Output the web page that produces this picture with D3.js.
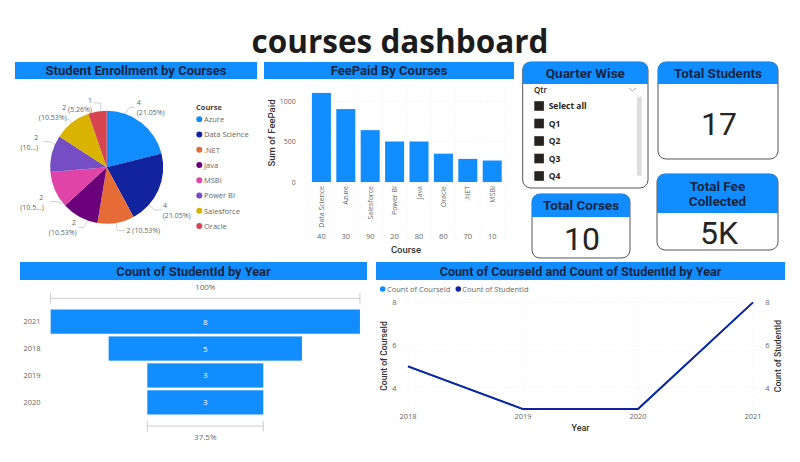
<!DOCTYPE html>
<html>
<head>
<meta charset="utf-8">
<title>courses dashboard</title>
<script src="https://cdn.jsdelivr.net/npm/d3@7"></script>
<style>
  html, body { margin: 0; padding: 0; background: #fff; }
  svg { display: block; }
  text { font-family: "Open Sans", "Noto Sans", sans-serif; }
  .head { font-family: Roboto, sans-serif; font-weight: 700; fill: #14263f; }
  .dt { font-family: Roboto, sans-serif; font-weight: 500; fill: #333; }
  .val { font-family: Roboto, sans-serif; fill: #252423; }
</style>
</head>
<body>
<div id="chart"></div>
<script>
// pie: student enrollment
var pieCourses = ["Azure", "Data Science", ".NET", "Java", "MSBI", "Power BI", "Salesforce", "Oracle"];
var pieValues = [4, 4, 2, 2, 2, 2, 2, 1];
var pieShares = ["(21.05%)", "(21.05%)", "(10.53%)", "(10.53%)", "(10.5...)", "(10...)", "(10.53%)", "(5.26%)"];
var pieColors = ["#118DFF", "#12239E", "#E66C37", "#6B007B", "#E044A7", "#744EC2", "#D9B300", "#D64550"];

// bars: fee paid
var feeCourses = ["Data Science", "Azure", "Salesforce", "Power BI", "Java", "Oracle", ".NET", "MSBI"];
var feeCourseIds = ["40", "30", "90", "20", "80", "60", "70", "10"];
var feeValues = [1100, 900, 640, 500, 500, 350, 285, 265];
var feeTicks = [0, 500, 1000];

// funnel
var funnelYears = ["2021", "2018", "2019", "2020"];
var funnelValues = [8, 5, 3, 3];

// line
var lineYears = ["2018", "2019", "2020", "2021"];
var courseCounts = [5, 3, 3, 8];
var studentCounts = [5, 3, 3, 8];
var lineTicks = [4, 6, 8];

// slicer
var slicerItems = ["Select all", "Q1", "Q2", "Q3", "Q4"];

var BLUE = "#118DFF", NAVY = "#12239E", GREY = "#666", GRID = "#e9e9e9";

var svg = d3.select("#chart").append("svg").attr("width", 800).attr("height", 462);

svg.append("text").attr("x", 400).attr("y", 53).attr("text-anchor", "middle")
  .attr("font-size", 31.5).attr("font-weight", 700).attr("fill", "#1c1c1c")
  .text("courses dashboard");

function headerBar(x0, x1, y0, y1, label, size) {
  svg.append("rect").attr("x", x0).attr("y", y0).attr("width", x1 - x0).attr("height", y1 - y0).attr("fill", BLUE);
  svg.append("text").attr("class", "head").attr("x", (x0 + x1) / 2).attr("y", (y0 + y1) / 2 + size * 0.36)
    .attr("text-anchor", "middle").attr("font-size", size).text(label);
}
headerBar(15, 257, 62, 79, "Student Enrollment by Courses", 13);
headerBar(264, 514, 62, 79, "FeePaid By Courses", 13);
headerBar(20, 367, 262, 280, "Count of StudentId by Year", 12.8);
headerBar(376, 785, 262, 280, "Count of CourseId and Count of StudentId by Year", 12.6);

// ---- pie
(function () {
  var cx = 106.7, cy = 167.3, r = 56.5;
  var g = svg.append("g").attr("transform", "translate(" + cx + "," + cy + ")");
  var slices = d3.pie().sort(null).value(function (d) { return d; })(pieValues);
  var arc = d3.arc().innerRadius(0).outerRadius(r);
  g.selectAll("path").data(slices).enter().append("path")
    .attr("d", arc).attr("fill", function (d, i) { return pieColors[i]; });

  // label layout, relative to the pie centre: where along the slice the leader
  // starts, its elbow and end, then the count and the share text
  var leaderAt = [0.25, 0.74, 0.5, 0.26, 0.05, 0.75, 0.5, 0.65];
  var elbow = [[22.7, -59.7], [48.3, 42.7], [10.7, 63.3], [-23.3, 60], [-49.3, 34.3], [-55, -25], [-38, -48], [-5.7, -64]];
  var end = [[28.3, -59.7], [55, 42.7], [18.3, 63.3], [-28.3, 60], [-56.7, 34.3], [-63.3, -26], [-40, -48], [-13.3, -64.7]];
  var numAt = [[32, -62], [58.3, 41.2], [0, 0], [-32.7, 58.2], [-65.4, 33.2], [-70.4, -27.1], [-42.4, -57.5], [-16.7, -64.8]];
  var shareAt = [[44, -52.5], [70, 50.9], [36.6, 65.9], [-44, 68.2], [-74.7, 42.9], [-77.4, -17.5], [-54, -47.8], [-26.7, -55.5]];

  slices.forEach(function (s, i) {
    var a = s.startAngle + (s.endAngle - s.startAngle) * leaderAt[i];
    var start = [Math.sin(a) * r, -Math.cos(a) * r];
    g.append("path").attr("d", d3.line()([start, elbow[i], end[i]]))
      .attr("fill", "none").attr("stroke", "#bbb").attr("stroke-width", 0.7);
    // the .NET label has room to sit on one line
    var oneLine = pieCourses[i] === ".NET";
    if (!oneLine) {
      g.append("text").attr("x", numAt[i][0]).attr("y", numAt[i][1])
        .attr("text-anchor", "middle").attr("font-size", 7).attr("fill", GREY).text(pieValues[i]);
    }
    g.append("text").attr("x", shareAt[i][0]).attr("y", shareAt[i][1])
      .attr("text-anchor", "middle").attr("font-size", 7).attr("fill", GREY)
      .text(oneLine ? pieValues[i] + " " + pieShares[i] : pieShares[i]);
  });

  // legend
  svg.append("text").attr("x", 196).attr("y", 109.5).attr("font-size", 7.5).attr("font-weight", 700)
    .attr("fill", "#444").text("Course");
  pieCourses.forEach(function (c, i) {
    var y = 119.3 + i * 15.25;
    svg.append("circle").attr("cx", 199.3).attr("cy", y).attr("r", 3).attr("fill", pieColors[i]);
    svg.append("text").attr("x", 204).attr("y", y + 2.8).attr("font-size", 7.5).attr("fill", GREY).text(c);
  });
})();

// ---- bars
(function () {
  var x = d3.scaleBand().domain(feeCourses).range([309.2, 504.4]).paddingInner(0.22).paddingOuter(0.11);
  var y = d3.scaleLinear().domain([0, 1000]).range([182, 101]);
  var bottom = 243;

  var cols = svg.append("g");
  x.domain().forEach(function (c, i) {
    var lx = x(c) - x.step() * x.paddingInner() / 2;
    cols.append("line").attr("x1", lx).attr("x2", lx).attr("y1", 88).attr("y2", bottom);
    if (i === feeCourses.length - 1) {
      cols.append("line").attr("x1", lx + x.step()).attr("x2", lx + x.step()).attr("y1", 88).attr("y2", bottom);
    }
  });
  cols.selectAll("line").attr("stroke", GRID).attr("stroke-width", 0.7).attr("stroke-dasharray", "1 2");

  var yAxis = d3.axisLeft(y).tickValues(feeTicks).tickFormat(d3.format("d"))
    .tickSize(-(504.4 - 309.2)).tickPadding(13.5);
  svg.append("g").attr("transform", "translate(309.2,0)").call(yAxis)
    .call(function (sel) {
      sel.select(".domain").remove();
      sel.selectAll("line").attr("stroke", GRID).attr("stroke-width", 0.7).attr("stroke-dasharray", "1 2");
      sel.selectAll("text").attr("fill", GREY).attr("font-size", 7);
    });

  svg.append("g").selectAll("rect").data(feeValues).enter().append("rect")
    .attr("x", function (d, i) { return x(feeCourses[i]); })
    .attr("width", x.bandwidth())
    .attr("y", function (d) { return y(d); })
    .attr("height", function (d) { return y(0) - y(d); })
    .attr("fill", BLUE);

  feeCourses.forEach(function (c, i) {
    var mx = x(c) + x.bandwidth() / 2;
    svg.append("text").attr("transform", "translate(" + (mx + 2.5) + ",186) rotate(-90)")
      .attr("text-anchor", "end").attr("font-size", 7).attr("fill", GREY).text(c);
    svg.append("text").attr("x", mx).attr("y", 239.3).attr("text-anchor", "middle")
      .attr("font-size", 7.5).attr("fill", GREY).text(feeCourseIds[i]);
  });

  svg.append("text").attr("class", "dt").attr("transform", "translate(275,133) rotate(-90)").attr("text-anchor", "middle")
    .attr("font-size", 9.5).text("Sum of FeePaid");
  svg.append("text").attr("class", "dt").attr("x", 406).attr("y", 253).attr("text-anchor", "middle")
    .attr("font-size", 9.5).text("Course");
})();

// ---- cards
function card(x0, x1, y0, headBottom, y1, lines, size) {
  var r = 8;
  var head = "M" + x0 + "," + headBottom + "V" + (y0 + r) + "Q" + x0 + "," + y0 + " " + (x0 + r) + "," + y0 +
    "H" + (x1 - r) + "Q" + x1 + "," + y0 + " " + x1 + "," + (y0 + r) + "V" + headBottom + "Z";
  svg.append("rect").attr("x", x0).attr("y", y0).attr("width", x1 - x0).attr("height", y1 - y0)
    .attr("rx", r).attr("fill", "#fff").attr("stroke", "#555").attr("stroke-width", 1);
  svg.append("path").attr("d", head).attr("fill", BLUE);
  var mid = (y0 + headBottom) / 2 + size * 0.36 - (lines.length - 1) * 7.5;
  lines.forEach(function (t, i) {
    svg.append("text").attr("class", "head").attr("x", (x0 + x1) / 2).attr("y", mid + i * 15)
      .attr("text-anchor", "middle").attr("font-size", size).text(t);
  });
}
function cardValue(x, y, label) {
  svg.append("text").attr("class", "val").attr("x", x).attr("y", y).attr("text-anchor", "middle")
    .attr("font-size", 32).text(label);
}
card(522.7, 648, 62, 84, 188, ["Quarter Wise"], 13.5);
card(658, 778, 62, 84, 159, ["Total Students"], 13.5);
card(657, 778, 174, 213, 250, ["Total Fee", "Collected"], 13.5);
card(532, 630, 194, 217, 258, ["Total Corses"], 13.5);
cardValue(719, 134.5, "17");
cardValue(582, 250, "10");
cardValue(719, 244, "5K");

// ---- slicer
svg.append("text").attr("x", 534).attr("y", 93).attr("font-size", 8).attr("font-weight", 600)
  .attr("fill", "#252423").text("Qtr");
svg.append("path").attr("d", "M629,88L632.5,91L636,88").attr("fill", "none").attr("stroke", "#888").attr("stroke-width", 0.7);
svg.append("rect").attr("x", 637).attr("y", 96.7).attr("width", 4.7).attr("height", 79).attr("fill", "#ddd");
slicerItems.forEach(function (t, i) {
  var y = 106 + i * 17.5;
  svg.append("rect").attr("x", 534.3).attr("y", y - 4.8).attr("width", 9.6).attr("height", 9.6).attr("fill", "#252423");
  svg.append("text").attr("x", 548.7).attr("y", y + 3).attr("font-size", 8.5).attr("font-weight", 700)
    .attr("fill", "#252423").text(t);
});

// ---- funnel
(function () {
  var cx = 205.3, full = 309.3;
  var w = d3.scaleLinear().domain([0, d3.max(funnelValues)]).range([0, full]);
  var y = d3.scaleBand().domain(funnelYears).range([309.5, 414.5]).paddingInner(0.1).paddingOuter(0);

  funnelYears.forEach(function (yr, i) {
    var bw = w(funnelValues[i]);
    svg.append("rect").attr("x", cx - bw / 2).attr("y", y(yr)).attr("width", bw).attr("height", y.bandwidth()).attr("fill", BLUE);
    svg.append("text").attr("x", cx).attr("y", y(yr) + y.bandwidth() / 2 + 3).attr("text-anchor", "middle")
      .attr("font-size", 8).attr("fill", "#fff").text(funnelValues[i]);
    svg.append("text").attr("x", 23.5).attr("y", y(yr) + y.bandwidth() / 2 + 2.5)
      .attr("font-size", 7.5).attr("fill", GREY).text(yr);
  });

  function bracket(half, by, label, ly) {
    var d = "M" + (cx - half) + "," + (by - 5.5) + "V" + (by + 5.5) + "M" + (cx - half) + "," + by + "H" + (cx + half) +
      "M" + (cx + half) + "," + (by - 5.5) + "V" + (by + 5.5);
    svg.append("path").attr("d", d).attr("fill", "none").attr("stroke", "#ccc").attr("stroke-width", 1);
    svg.append("text").attr("x", cx).attr("y", ly).attr("text-anchor", "middle").attr("font-size", 8).attr("fill", GREY).text(label);
  }
  var first = funnelValues[0], last = funnelValues[funnelValues.length - 1];
  bracket(w(first) / 2, 298.3, "100%", 290);
  bracket(w(last) / 2, 426, (last / first * 100).toFixed(1) + "%", 440);
})();

// ---- line
(function () {
  var x = d3.scalePoint().domain(lineYears).range([408, 753]);
  var y = d3.scaleLinear().domain([3, 8]).range([409, 302.3]);

  lineYears.forEach(function (yr) {
    svg.append("line").attr("x1", x(yr)).attr("x2", x(yr)).attr("y1", 298).attr("y2", 409)
      .attr("stroke", GRID).attr("stroke-width", 0.7).attr("stroke-dasharray", "1 2");
    svg.append("text").attr("x", x(yr)).attr("y", 419).attr("text-anchor", "middle")
      .attr("font-size", 7.5).attr("fill", GREY).text(yr);
  });
  lineTicks.forEach(function (t) {
    svg.append("line").attr("x1", 405).attr("x2", 757).attr("y1", y(t)).attr("y2", y(t))
      .attr("stroke", GRID).attr("stroke-width", 0.7).attr("stroke-dasharray", "1 2");
    svg.append("text").attr("x", 394.5).attr("y", y(t) + 3).attr("text-anchor", "middle").attr("font-size", 7.5).attr("fill", GREY).text(t);
    svg.append("text").attr("x", 767.5).attr("y", y(t) + 3).attr("text-anchor", "middle").attr("font-size", 7.5).attr("fill", GREY).text(t);
  });

  var line = d3.line()
    .x(function (d, i) { return x(lineYears[i]); })
    .y(function (d) { return y(d); });
  svg.append("path").attr("d", line(courseCounts)).attr("fill", "none").attr("stroke", BLUE).attr("stroke-width", 1.8);
  svg.append("path").attr("d", line(studentCounts)).attr("fill", "none").attr("stroke", NAVY).attr("stroke-width", 1.8);

  svg.append("text").attr("class", "dt").attr("transform", "translate(387,356) rotate(-90)").attr("text-anchor", "middle")
    .attr("font-size", 8.6).text("Count of CourseId");
  svg.append("text").attr("class", "dt").attr("transform", "translate(781,356) rotate(-90)").attr("text-anchor", "middle")
    .attr("font-size", 8.6).text("Count of StudentId");
  svg.append("text").attr("class", "dt").attr("x", 580.5).attr("y", 431).attr("text-anchor", "middle")
    .attr("font-size", 9).text("Year");

  // legend
  [["Count of CourseId", BLUE, 382.7, 387], ["Count of StudentId", NAVY, 458.3, 462.3]].forEach(function (l) {
    svg.append("circle").attr("cx", l[2]).attr("cy", 289).attr("r", 2.8).attr("fill", l[1]);
    svg.append("text").attr("x", l[3]).attr("y", 291.6).attr("font-size", 7.5).attr("fill", GREY).text(l[0]);
  });
})();
</script>
</body>
</html>
